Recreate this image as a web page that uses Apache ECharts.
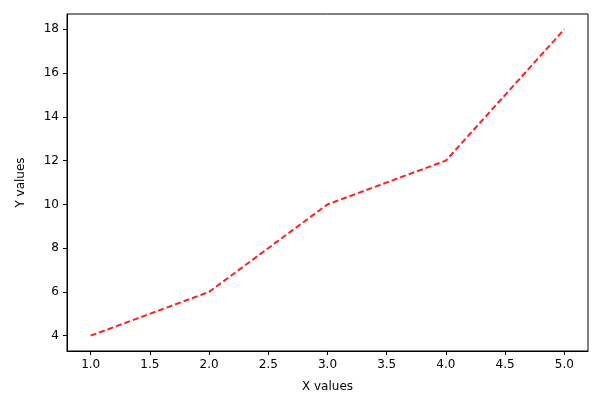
<!DOCTYPE html>
<html>
<head>
<meta charset="utf-8">
<script src="https://cdn.jsdelivr.net/npm/echarts@6/dist/echarts.min.js"></script>
<style>html,body{margin:0;padding:0;background:#fff}#main{width:600px;height:409px}</style>
</head>
<body>
<div id="main"></div>
<script>
var x_values = [1, 2, 3, 4, 5]
var y_values = [4, 6, 10, 12, 18]
var x_ticks = [1.0, 1.5, 2.0, 2.5, 3.0, 3.5, 4.0, 4.5, 5.0]
var y_ticks = [4, 6, 8, 10, 12, 14, 16, 18]

var myChart = echarts.init(document.getElementById('main'))
var font = 'DejaVu Sans'
var axisCommon = {
  axisLine: { show: true, onZero: false, lineStyle: { color: '#000', width: 1 } },
  axisTick: { show: true, inside: false, length: 4, lineStyle: { color: '#000' } },
  splitLine: { show: false },
  nameTextStyle: { color: '#000', fontFamily: font, fontSize: 12 }
}
myChart.setOption({
  animation: false,
  grid: { left: 67, right: 12, top: 14, bottom: 58, show: true, borderColor: '#000', borderWidth: 1 },
  xAxis: Object.assign({}, axisCommon, {
    type: 'value', min: 0.8, max: 5.2,
    name: 'X values', nameLocation: 'middle', nameGap: 30,
    axisTick: Object.assign({}, axisCommon.axisTick, { customValues: x_ticks }),
    axisLabel: { customValues: x_ticks, color: '#000', fontFamily: font, fontSize: 12, margin: 8,
      formatter: function (v) { return v.toFixed(1) } }
  }),
  yAxis: Object.assign({}, axisCommon, {
    type: 'value', min: 3.3, max: 18.7,
    name: 'Y values', nameLocation: 'middle', nameGap: 40, nameRotate: 90,
    axisTick: Object.assign({}, axisCommon.axisTick, { customValues: y_ticks }),
    axisLabel: { customValues: y_ticks, color: '#000', fontFamily: font, fontSize: 12, margin: 8 }
  }),
  series: [{
    type: 'line',
    data: x_values.map(function (x, i) { return [x, y_values[i]] }),
    showSymbol: false,
    lineStyle: { color: '#ff2020', width: 2, type: [6, 3] }
  }]
})
</script>
</body>
</html>
